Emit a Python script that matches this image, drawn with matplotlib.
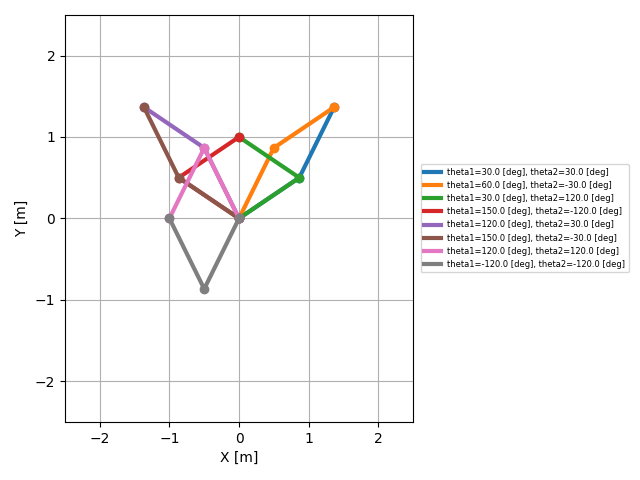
import numpy as np
import matplotlib
matplotlib.use("Agg")
import matplotlib.pyplot as plt

theta1 = [30.0, 60.0, 30.0, 150.0, 120.0, 150.0, 120.0, -120.0]
theta2 = [30.0, -30.0, 120.0, -120.0, 30.0, -30.0, 120.0, -120.0]
L1, L2 = 1.0, 1.0

fig = plt.figure(figsize=(6.4, 4.8), dpi=100)
ax = fig.add_axes([0.1016, 0.121, 0.5437, 0.848])
for t1, t2 in zip(theta1, theta2):
    a, b = np.deg2rad(t1), np.deg2rad(t2)
    xs = [0, L1*np.cos(a), L1*np.cos(a) + L2*np.cos(a+b)]
    ys = [0, L1*np.sin(a), L1*np.sin(a) + L2*np.sin(a+b)]
    line, = ax.plot(xs, ys, '-', lw=3, label=f"theta1={t1} [deg], theta2={t2} [deg]")
    ax.plot(xs, ys, 'o', color=line.get_color())
ax.set_xlim(-2.5, 2.5)
ax.set_ylim(-2.5, 2.5)
ax.grid(True)
ax.set_xlabel("X [m]")
ax.set_ylabel("Y [m]")
ax.legend(loc='center left', bbox_to_anchor=(1.01, 0.5), fontsize=6)
fig.savefig("out.png")
